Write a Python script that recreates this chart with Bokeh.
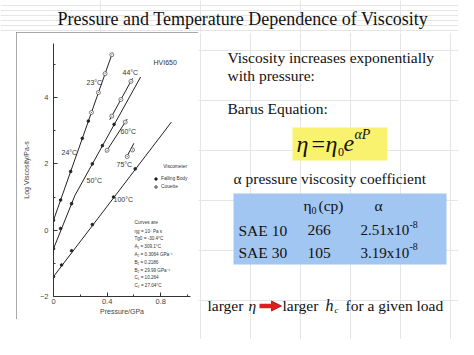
from bokeh.plotting import figure
from bokeh.models import (Range1d, Label, BoxAnnotation, Arrow, NormalHead,
                          FixedTicker, Legend, LegendItem, Spacer)
from bokeh.layouts import row, column
from bokeh.embed import file_html
from bokeh.resources import INLINE

# ---------------- data (pressure in GPa, log10 viscosity in Pa s) -------------
p24_line = [0.0, 0.44]
v24_line = [0.30, 5.35]
p24_fb = [0.0, 0.053, 0.128, 0.215, 0.26]
v24_fb = [0.30, 0.91, 1.77, 2.77, 3.29]
p23_cou = [0.283, 0.335, 0.385, 0.435]
v23_cou = [3.55, 4.15, 4.72, 5.29]

p50_line = [0.0, 0.16, 0.65]
v50_line = [-0.56, 1.05, 4.62]
p50_fb = [0.0, 0.053, 0.135, 0.29, 0.365, 0.452]
v50_fb = [-0.56, 0.05, 0.80, 2.00, 2.55, 3.19]

p44_line = [0.42, 0.59]
v44_line = [3.33, 4.58]
p44_cou = [0.435, 0.503, 0.578]
v44_cou = [3.44, 3.94, 4.49]

p60_line = [0.39, 0.55]
v60_line = [2.35, 3.35]
p60_cou = [0.40, 0.535]
v60_cou = [2.41, 3.26]

p75_line = [0.545, 0.60]
v75_line = [2.20, 2.62]
p75_cou = [0.55, 0.59]
v75_cou = [2.22, 2.42]

p100_line = [0.0, 0.88]
v100_line = [-1.40, 3.26]
p100_fb = [0.0, 0.06, 0.135, 0.29, 0.448, 0.61]
v100_fb = [-1.40, -1.05, -0.62, 0.17, 1.00, 1.85]

x_ticks = [0, 0.4, 0.8]
x_minor = [0.2, 0.6, 1.0]
y_ticks = [-2, 0, 2, 4]
y_minor = [-1, 1, 3, 5]

curve_params = ["ηg = 10⁷ Pa s", "Tg0 = -30.4°C", "A₁ = 309.1°C", "A₂ = 0.3064 GPa⁻¹",
                "B₁ = 0.2186", "B₂ = 29.99 GPa⁻¹", "C₁ = 10.264", "C₂ = 27.04°C"]

table_rows = [("SAE 10", "266", "2.51x10", "-8"),
              ("SAE 30", "105", "3.19x10", "-8")]

SANS = "Liberation Sans"
SERIF = "Liberation Serif"
INK = "#333333"


def bare(w, h, x0, x1, y0, y1):
    f = figure(width=w, height=h, x_range=Range1d(x0, x1), y_range=Range1d(y1, y0),
               output_backend="svg", toolbar_location=None,
               x_axis_location=None, y_axis_location=None, min_border=0)
    f.outline_line_color = None
    f.background_fill_color = "white"
    f.border_fill_color = "white"
    return f


def lab(f, x, y, text, size, font=SERIF, style="normal", color="#111111",
        baseline="alphabetic", align="left", rn="default"):
    # y is the text baseline (reference pixels); placed through its middle
    yy = y - 0.34 * size if baseline == "alphabetic" else y
    f.add_layout(Label(x=x, y=yy, text=text, x_range_name=rn, y_range_name=rn,
                       text_font=font, text_font_size=f"{size}px", text_font_style=style,
                       text_color=color, text_baseline="middle", text_align=align))


def box(f, l, r, t, b, fill):
    f.add_layout(BoxAnnotation(left=l, right=r, top=t, bottom=b, fill_color=fill,
                               fill_alpha=1.0, line_color=None))


# ---------------- title strip (reference pixels 0..458 x 0..32) ----------------
T = bare(458, 32, 0, 458, 0, 32)
lab(T, 57, 25, "Pressure and Temperature Dependence of Viscosity", 18)

# ---------------- chart (reference pixels 16..198 x 32..319) ----------------
CW, CH = 182, 287
C = figure(width=CW, height=CH, x_range=Range1d(0, 1.0224), y_range=Range1d(-2, 5.63),
           output_backend="svg", toolbar_location=None,
           min_border_left=37, min_border_right=8, min_border_top=11, min_border_bottom=23)
C.extra_x_ranges = {"page": Range1d(53, 190)}
C.extra_y_ranges = {"page": Range1d(296, 43)}
C.background_fill_color = "white"
C.border_fill_color = "white"
C.outline_line_color = None
C.grid.visible = False
C.styles = {"outline": "1px solid #8c8c8c", "outline-offset": "-1px"}

for ax in (C.xaxis[0], C.yaxis[0]):
    ax.axis_line_color = INK
    ax.axis_line_width = 1
    ax.major_tick_in = 4
    ax.major_tick_out = 0
    ax.minor_tick_in = 2
    ax.minor_tick_out = 0
    ax.major_tick_line_color = INK
    ax.minor_tick_line_color = INK
    ax.major_label_text_font = SANS
    ax.major_label_text_font_size = "7.5px"
    ax.major_label_text_color = "#444444"
    ax.axis_label_text_font = SANS
    ax.axis_label_text_font_size = "7px"
    ax.axis_label_text_font_style = "normal"
    ax.axis_label_text_color = "#444444"

C.xaxis.ticker = FixedTicker(ticks=x_ticks, minor_ticks=x_minor)
C.yaxis.ticker = FixedTicker(ticks=y_ticks, minor_ticks=y_minor)
C.xaxis.axis_label = "Pressure/GPa"
C.yaxis.axis_label = "Log Viscosity/Pa-s"
C.xaxis.major_label_standoff = 2
C.xaxis.axis_label_standoff = 1
C.yaxis.major_label_standoff = 5
C.yaxis.axis_label_standoff = 7

for xs, ys in [(p24_line, v24_line), (p50_line, v50_line), (p44_line, v44_line),
               (p60_line, v60_line), (p75_line, v75_line), (p100_line, v100_line)]:
    C.line(xs, ys, line_color="#222222", line_width=1.0)

fb_r = []
for xs, ys in [(p24_fb, v24_fb), (p50_fb, v50_fb), (p100_fb, v100_fb)]:
    fb_r.append(C.scatter(xs, ys, marker="circle", size=2.6, fill_color="#222222",
                          line_color="#222222"))
cou_r = []
for xs, ys in [(p23_cou, v23_cou), (p44_cou, v44_cou), (p60_cou, v60_cou), (p75_cou, v75_cou)]:
    cou_r.append(C.scatter(xs, ys, marker="circle_dot", size=4.0, fill_color="white",
                           line_color="#444444", line_width=0.7))

legend = Legend(items=[LegendItem(label="Falling Body", renderers=fb_r),
                       LegendItem(label="Couette", renderers=cou_r)],
                location=(100, 106))
legend.background_fill_alpha = 0
legend.border_line_color = None
legend.label_text_font = SANS
legend.label_text_font_size = "4.8px"
legend.label_text_color = INK
legend.glyph_width = 5
legend.glyph_height = 7
legend.label_height = 7
legend.label_standoff = 3
legend.spacing = 1
legend.padding = 1
legend.margin = 0
C.add_layout(legend)
lab(C, 162.7, 166, "Viscometer", 4.8, font=SANS, color=INK, baseline="middle", rn="page")

for x, y, t in [(61, 152, "24°C"), (86, 82, "23°C"), (122, 72, "44°C"), (120, 131, "60°C"),
                (116, 164, "75°C"), (86, 180, "50°C"), (113, 199, "100°C")]:
    lab(C, x, y, t, 7, font=SANS, color=INK, baseline="middle", rn="page")
lab(C, 153, 62, "HVI650", 7, font=SANS, color=INK, baseline="middle", rn="page")

lab(C, 134, 222, "Curves are", 4.8, font=SANS, color=INK, baseline="middle", rn="page")
for i, t in enumerate(curve_params):
    lab(C, 134, 230.5 + 7.8 * i, t, 4.6, font=SANS, color=INK, baseline="middle", rn="page")

# ---------------- right panel (reference pixels 198..458 x 32..339) ----------------
R = bare(260, 307, 198, 458, 32, 339)
box(R, 292, 387, 127, 160, "#f8f26e")     # yellow equation box
box(R, 233, 446, 193, 264, "#a2c6f2")     # blue table box

lab(R, 227, 62, "Viscosity increases exponentially", 15.5)
lab(R, 227, 80, "with pressure:", 15.5)
lab(R, 227, 113, "Barus Equation:", 15.5)

lab(R, 296, 151.5, "η", 24, style="italic")
lab(R, 311, 151.5, "=", 24)
lab(R, 325, 151.5, "η", 24, style="italic")
lab(R, 337.5, 155.5, "0", 12)
lab(R, 343, 151.5, "e", 24, style="italic")
lab(R, 354, 138.3, "αP", 14, style="italic")

lab(R, 233, 183, "α pressure viscosity coefficient", 15.5)

lab(R, 303, 210.5, "η", 15.5)
lab(R, 311, 213.5, "0", 10)
lab(R, 318, 210.5, "(cp)", 15.5)
lab(R, 374, 210.5, "α", 15.5)
for i, (name, eta0, a, ex) in enumerate(table_rows):
    yb = 235 + 22.7 * i
    lab(R, 238, yb, name, 15.5)
    lab(R, 307, yb, eta0, 15.5)
    lab(R, 360, yb, a, 15)
    lab(R, 409, yb - 11.5, ex, 10, baseline="middle")

lab(R, 207, 310, "larger", 15.5)
lab(R, 248, 310, "η", 15.5, style="italic")
R.add_layout(Arrow(x_start=259, y_start=305.5, x_end=281, y_end=305.5,
                   line_color="#e01e1e", line_width=4.5,
                   end=NormalHead(size=10, fill_color="#e01e1e", line_color="#a01010",
                                  line_width=0.8)))
lab(R, 282, 310, "larger", 15.5)
lab(R, 325, 310, "h", 16, style="italic")
lab(R, 334, 313, "c", 9, style="italic")
lab(R, 345, 310, "for a given load", 15.5)

layout = column(T,
                row(column(row(Spacer(width=16, height=CH), C), Spacer(width=198, height=20)), R))

open("out.html", "w").write(file_html(layout, INLINE))
